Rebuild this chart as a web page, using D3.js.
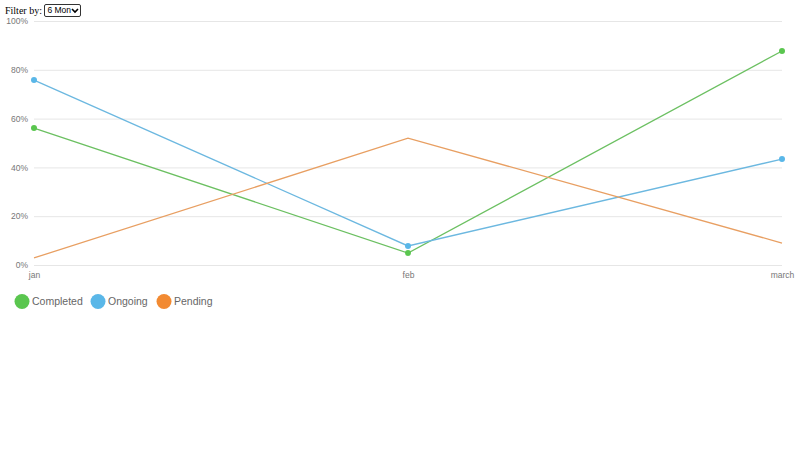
<!DOCTYPE html>
<html>
<head>
<meta charset="utf-8">
<script src="https://d3js.org/d3.v7.min.js"></script>
<style>
  body { margin: 0; background: #fff; }
  #filter { position: absolute; left: 5px; top: 4px; font-family: "Liberation Serif", "Times New Roman", serif; font-size: 10px; z-index: 2; line-height: 13px; }
  #filter select {
    -webkit-appearance: none; appearance: none; box-sizing: border-box;
    font-family: "Liberation Sans", Arial, sans-serif; font-size: 8.5px; color: #000;
    height: 13px; width: 37px; padding: 0 6px 0 2px; margin: 0;
    border: 1px solid #333; border-radius: 2px; vertical-align: top; line-height: 11px;
    background: #fff url("data:image/svg+xml;utf8,<svg xmlns='http://www.w3.org/2000/svg' width='8' height='6'><path d='M1 1 L4 4 L7 1' fill='none' stroke='black' stroke-width='1.6'/></svg>") no-repeat right 1px center;
  }
  svg#chart { position: absolute; left: 0; top: 0; }
</style>
</head>
<body>
<div id="filter">Filter by: <select><option>6 Mon</option><option>3 Mon</option><option>1 Year</option></select></div>
<svg id="chart" width="800" height="450"></svg>
<script>
const categories = ["jan", "feb", "march"];
const seriesNames = ["Completed", "Ongoing", "Pending"];
const completed = [56.1, 4.9, 87.7];
const ongoing = [75.8, 7.8, 43.4];
const pending = [2.9, 52.0, 9.0];
const yTicks = [0, 20, 40, 60, 80, 100];
const colors = ["#5ac64f", "#5ab7e8", "#f28a32"];
const lineColors = ["#6cc062", "#6cb8e0", "#e89f62"];
const showDots = [true, true, false];

const seriesValues = [completed, ongoing, pending];

const svg = d3.select("#chart");
const margin = { left: 34, right: 18, top: 21, bottom: 185 };
const W = 800, H = 450;

const x = d3.scalePoint().domain(categories).range([margin.left, W - margin.right]);
const y = d3.scaleLinear().domain([0, 100]).range([H - margin.bottom, margin.top]);

// gridlines + y labels
const yAxis = d3.axisLeft(y).tickValues(yTicks).tickFormat(d => d + "%")
  .tickSize(-(W - margin.left - margin.right)).tickPadding(6);
const gy = svg.append("g").attr("transform", `translate(${margin.left},0)`).call(yAxis);
gy.select(".domain").remove();
gy.selectAll(".tick line").attr("stroke", "#e6e6e6").attr("stroke-width", 1);
gy.selectAll(".tick text").attr("fill", "#777").attr("font-size", 8.5)
  .attr("font-family", "Liberation Sans, Arial, sans-serif");

// x labels
const xAxis = d3.axisBottom(x).tickSize(0).tickPadding(7);
const gx = svg.append("g").attr("transform", `translate(0,${y(0)})`).call(xAxis);
gx.select(".domain").remove();
gx.selectAll(".tick text").attr("fill", "#777").attr("font-size", 8.5)
  .attr("font-family", "Liberation Sans, Arial, sans-serif");

const line = d3.line().x((d, i) => x(categories[i])).y(d => y(d));

seriesValues.forEach((vals, si) => {
  svg.append("path").datum(vals)
    .attr("fill", "none").attr("stroke", lineColors[si]).attr("stroke-width", 1.3)
    .attr("d", line);
  if (showDots[si]) {
    svg.append("g").selectAll("circle").data(vals).join("circle")
      .attr("cx", (d, i) => x(categories[i]))
      .attr("cy", d => y(d))
      .attr("r", 3)
      .attr("fill", colors[si]);
  }
});

// legend
const legendX = [22, 98, 164];
const lg = svg.append("g");
seriesNames.forEach((name, i) => {
  lg.append("circle").attr("cx", legendX[i]).attr("cy", 301.5).attr("r", 7.5).attr("fill", colors[i]);
  lg.append("text").attr("x", legendX[i] + 10).attr("y", 305)
    .attr("font-size", 10.5).attr("fill", "#666")
    .attr("font-family", "Liberation Sans, Arial, sans-serif")
    .text(name);
});
</script>
</body>
</html>
